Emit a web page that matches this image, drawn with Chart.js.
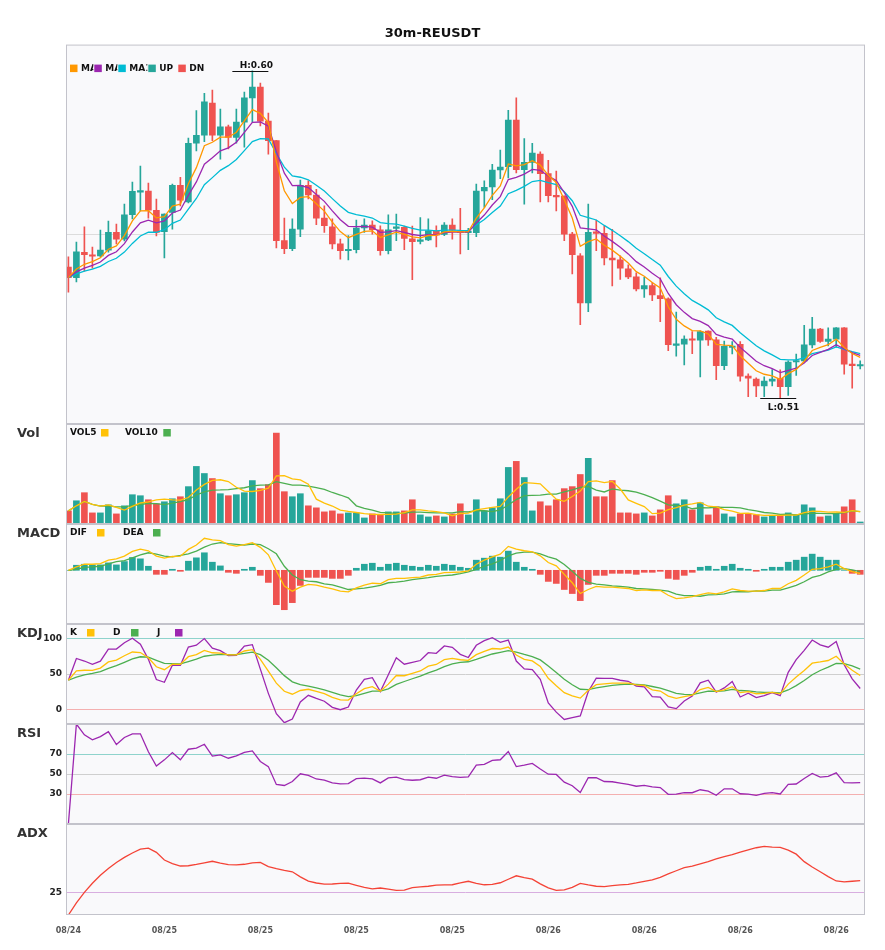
<!DOCTYPE html>
<html>
<head>
<meta charset="utf-8">
<title>30m-REUSDT</title>
<script src="https://cdn.jsdelivr.net/npm/chart.js@4.4.1/dist/chart.umd.min.js"></script>
<style>
  body { margin: 0; background: #fff; }
  #wrap { position: relative; width: 885px; height: 950px; }
  #wrap canvas { position: absolute; left: 0; }
</style>
</head>
<body>
<div id="wrap">
  <canvas id="cPrice" width="885" height="424" style="top:0"></canvas>
  <canvas id="cVol" width="885" height="100" style="top:424px"></canvas>
  <canvas id="cMacd" width="885" height="100" style="top:524px"></canvas>
  <canvas id="cKdj" width="885" height="100" style="top:624px"></canvas>
  <canvas id="cRsi" width="885" height="100" style="top:724px"></canvas>
  <canvas id="cAdx" width="885" height="126" style="top:824px"></canvas>
</div>
<script>
// 30m candles, 100 bars
const TICK_INDEX = [0, 12, 24, 36, 48, 60, 72, 84, 96];
const TICK_LABELS = ['08/24', '08/25', '08/25', '08/25', '08/25', '08/26', '08/26', '08/26', '08/26'];

const OPEN = [0.5459,0.5430,0.5500,0.5492,0.5490,0.5506,0.5555,0.5536,0.5604,0.5666,
  0.5669,0.5616,0.5557,0.5610,0.5685,0.5639,0.5801,0.5823,0.5912,0.5823,
  0.5846,0.5817,0.5859,0.5926,0.5956,0.5862,0.5808,0.5532,0.5510,0.5564,
  0.5685,0.5658,0.5594,0.5570,0.5523,0.5504,0.5507,0.5567,0.5575,0.5562,
  0.5504,0.5566,0.5569,0.5537,0.5530,0.5534,0.5559,0.5549,0.5575,0.5556,
  0.5554,0.5554,0.5669,0.5680,0.5727,0.5736,0.5865,0.5728,0.5748,0.5771,
  0.5717,0.5656,0.5655,0.5550,0.5490,0.5360,0.5555,0.5552,0.5484,0.5479,
  0.5454,0.5432,0.5399,0.5408,0.5380,0.5371,0.5243,0.5246,0.5259,0.5257,
  0.5282,0.5258,0.5187,0.5237,0.5246,0.5158,0.5150,0.5131,0.5144,0.5152,
  0.5129,0.5197,0.5200,0.5244,0.5288,0.5254,0.5260,0.5291,0.5191,0.5186];
const HIGH = [0.5487,0.5528,0.5570,0.5514,0.5561,0.5586,0.5578,0.5633,0.5694,0.5738,
  0.5691,0.5647,0.5606,0.5688,0.5707,0.5815,0.5891,0.5939,0.5948,0.5895,
  0.5851,0.5895,0.5942,0.6001,0.5967,0.5884,0.5809,0.5594,0.5592,0.5699,
  0.5697,0.5674,0.5628,0.5592,0.5536,0.5546,0.5589,0.5592,0.5587,0.5573,
  0.5603,0.5605,0.5572,0.5572,0.5596,0.5592,0.5573,0.5582,0.5592,0.5621,
  0.5566,0.5688,0.5697,0.5743,0.5782,0.5892,0.5926,0.5814,0.5801,0.5777,
  0.5754,0.5724,0.5656,0.5555,0.5496,0.5633,0.5589,0.5573,0.5563,0.5490,
  0.5465,0.5443,0.5431,0.5416,0.5429,0.5374,0.5335,0.5269,0.5281,0.5283,
  0.5283,0.5265,0.5255,0.5253,0.5253,0.5164,0.5153,0.5156,0.5176,0.5175,
  0.5200,0.5219,0.5298,0.5320,0.5290,0.5291,0.5292,0.5292,0.5222,0.5200];
const LOW = [0.5390,0.5418,0.5448,0.5456,0.5487,0.5500,0.5523,0.5531,0.5592,0.5614,
  0.5594,0.5545,0.5484,0.5564,0.5628,0.5636,0.5780,0.5805,0.5808,0.5757,
  0.5785,0.5801,0.5790,0.5859,0.5849,0.5771,0.5512,0.5496,0.5504,0.5543,
  0.5647,0.5576,0.5555,0.5509,0.5481,0.5479,0.5498,0.5555,0.5550,0.5492,
  0.5495,0.5532,0.5507,0.5424,0.5523,0.5532,0.5515,0.5546,0.5536,0.5495,
  0.5507,0.5543,0.5624,0.5645,0.5703,0.5705,0.5719,0.5633,0.5719,0.5639,
  0.5639,0.5614,0.5532,0.5440,0.5300,0.5336,0.5504,0.5465,0.5407,0.5425,
  0.5427,0.5393,0.5375,0.5366,0.5308,0.5228,0.5213,0.5189,0.5220,0.5156,
  0.5243,0.5148,0.5176,0.5219,0.5144,0.5101,0.5101,0.5101,0.5131,0.5098,
  0.5105,0.5160,0.5197,0.5236,0.5251,0.5241,0.5238,0.5163,0.5125,0.5178];
const CLOSE = [0.5430,0.5501,0.5493,0.5489,0.5506,0.5555,0.5536,0.5603,0.5668,0.5669,
  0.5616,0.5555,0.5605,0.5685,0.5644,0.5801,0.5823,0.5915,0.5823,0.5846,
  0.5817,0.5859,0.5926,0.5956,0.5862,0.5808,0.5532,0.5510,0.5564,0.5685,
  0.5658,0.5594,0.5573,0.5523,0.5504,0.5507,0.5567,0.5575,0.5562,0.5504,
  0.5562,0.5570,0.5538,0.5529,0.5534,0.5559,0.5547,0.5575,0.5561,0.5554,
  0.5557,0.5669,0.5679,0.5727,0.5735,0.5865,0.5728,0.5748,0.5774,0.5717,
  0.5656,0.5653,0.5550,0.5493,0.5360,0.5555,0.5552,0.5484,0.5479,0.5456,
  0.5432,0.5399,0.5408,0.5382,0.5372,0.5245,0.5246,0.5260,0.5257,0.5281,
  0.5258,0.5187,0.5240,0.5240,0.5158,0.5152,0.5131,0.5144,0.5150,0.5129,
  0.5197,0.5200,0.5244,0.5288,0.5254,0.5260,0.5291,0.5191,0.5187,0.5189];
const VOLUME = [130,230,310,110,110,190,100,180,290,280,
  240,200,220,250,270,370,570,500,450,300,
  280,290,310,430,350,390,900,320,270,300,
  180,160,120,130,100,110,110,60,100,90,
  120,120,130,240,90,70,80,70,100,200,
  90,240,130,160,250,560,620,460,130,220,
  180,240,350,370,490,650,270,270,430,110,
  110,100,110,80,140,280,200,240,140,210,
  90,170,100,70,100,100,90,70,80,90,
  110,90,190,160,70,80,100,170,240,20];

// MACD panel (units of 1e-4)
const DIF = [0,10,18,18,20,30,34,42,56,63,
  58,42,36,41,42,62,75,95,90,88,
  76,72,76,82,68,46,-2,-47,-62,-50,
  -42,-44,-50,-55,-62,-64,-52,-44,-38,-40,
  -28,-24,-24,-22,-20,-14,-12,-7,-6,-5,
  -2,18,30,40,48,71,63,58,55,43,
  23,13,-12,-37,-69,-57,-48,-50,-50,-52,
  -54,-60,-58,-60,-60,-74,-84,-82,-78,-72,
  -67,-70,-64,-55,-60,-62,-62,-60,-54,-54,
  -40,-30,-14,3,5,10,18,5,-4,-10];
const DEA = [0,3,9,10,12,19,26,29,37,46,
  52,48,42,40,44,49,57,69,78,82,
  79,77,75,78,76,64,49,12,-14,-28,
  -32,-34,-40,-43,-50,-57,-55,-53,-49,-45,
  -37,-35,-32,-28,-25,-22,-18,-16,-14,-10,
  -5,3,12,19,29,43,51,54,54,49,
  40,33,17,-3,-24,-36,-41,-43,-46,-48,
  -50,-54,-55,-57,-59,-62,-71,-75,-75,-77,
  -73,-72,-70,-64,-63,-64,-61,-62,-59,-59,
  -52,-45,-34,-21,-15,-5,3,5,1,-4];
const MACD_HIST = [0,15,18,16,16,22,16,26,38,34,
  12,-12,-12,3,-3,27,37,52,24,13,
  -6,-9,3,9,-15,-36,-102,-117,-96,-45,
  -21,-21,-21,-24,-24,-15,6,18,21,9,
  18,21,15,12,9,15,12,18,15,9,
  6,30,36,42,39,57,24,9,3,-12,
  -33,-39,-57,-69,-90,-42,-15,-15,-9,-9,
  -9,-12,-6,-6,-3,-24,-27,-15,-6,9,
  12,3,12,18,6,3,-3,3,9,9,
  24,30,39,48,39,30,30,0,-9,-12];

const UP = '#26a69a', DN = '#ef5350';
const FONT = '"DejaVu Sans", sans-serif';

// ---- indicators derived from the bars ----
function ewm(src, a) {
  const out = [];
  src.forEach((v, i) => out.push(i === 0 ? v : a * v + (1 - a) * out[i - 1]));
  return out;
}
const ema = (src, span) => ewm(src, 2 / (span + 1));
function sma(src, n) {
  return src.map((_, i) => {
    const s = src.slice(Math.max(0, i - n + 1), i + 1);
    return s.reduce((p, c) => p + c, 0) / s.length;
  });
}

const IDX = CLOSE.map((_, i) => i);
const isUp = IDX.map(i => CLOSE[i] >= OPEN[i]);
const pts = arr => arr.map((y, i) => ({ x: i, y: y }));

const ma5 = ema(CLOSE, 5), ma8 = ema(CLOSE, 8), ma13 = ema(CLOSE, 13);
const vol5 = sma(VOLUME, 5), vol10 = sma(VOLUME, 10);

const rsv = IDX.map(i => {
  const lo = Math.min(...LOW.slice(Math.max(0, i - 8), i + 1));
  const hi = Math.max(...HIGH.slice(Math.max(0, i - 8), i + 1));
  return hi === lo ? 50 : (CLOSE[i] - lo) / (hi - lo) * 100;
});
const kLine = ewm(rsv, 1 / 3);
const dLine = ewm(kLine, 1 / 3);
const jLine = IDX.map(i => 3 * kLine[i] - 2 * dLine[i]);

// RSI 14, Wilder smoothing
const delta = IDX.map(i => i ? CLOSE[i] - CLOSE[i - 1] : 0);
const gain = ewm(delta.map(d => Math.max(d, 0)), 1 / 14);
const loss = ewm(delta.map(d => Math.max(-d, 0)), 1 / 14);
const rsi = IDX.map(i => loss[i] === 0 ? (gain[i] === 0 ? 0 : 100) : 100 - 100 / (1 + gain[i] / loss[i]));

const pdm = [], mdm = [], tr = [];
IDX.forEach(i => {
  if (i === 0) { pdm.push(0); mdm.push(0); tr.push(HIGH[0] - LOW[0]); return; }
  const up = HIGH[i] - HIGH[i - 1], dn = LOW[i - 1] - LOW[i];
  pdm.push(up > dn && up > 0 ? up : 0);
  mdm.push(dn > up && dn > 0 ? dn : 0);
  tr.push(Math.max(HIGH[i] - LOW[i], Math.abs(HIGH[i] - CLOSE[i - 1]), Math.abs(LOW[i] - CLOSE[i - 1])));
});
const spdm = ewm(pdm, 2 / 15), smdm = ewm(mdm, 2 / 15), str = ewm(tr, 2 / 15);
const dx = IDX.map(i => {
  const p = spdm[i] / str[i] * 100, m = smdm[i] / str[i] * 100;
  return p + m === 0 ? 0 : Math.abs(p - m) / (p + m) * 100;
});
const adx = ewm(dx, 2 / 15);

// ---- shared chart pieces ----
function xAxis(show) {
  return {
    type: 'linear', min: -0.3, max: 99.6, display: show, offset: false,
    grid: { display: false }, border: { display: false },
    afterBuildTicks: s => { s.ticks = TICK_INDEX.map(v => ({ value: v })); },
    afterFit: s => {
      s.height = show ? 35 : 0;
      s.paddingLeft = 0; s.paddingRight = 0;
    },
    ticks: {
      autoSkip: false, maxRotation: 0, padding: 3, color: '#555',
      font: { family: FONT, size: 8, weight: 'bold' },
      callback: v => TICK_LABELS[TICK_INDEX.indexOf(v)]
    }
  };
}
function yAxis(extra) {
  return Object.assign({
    type: 'linear',
    afterFit: s => { s.width = 66; s.paddingTop = 0; s.paddingBottom = 0; },
    border: { display: false },
    grid: { display: false },
    ticks: { display: false }
  }, extra);
}
function refLines(values, colors) {
  return {
    afterBuildTicks: s => { s.ticks = values.map(v => ({ value: v })); },
    grid: { display: true, drawTicks: false, lineWidth: 1, color: c => colors[values.indexOf(c.tick.value)] },
    ticks: { display: true, padding: 4, color: '#222', font: { family: FONT, size: 9, weight: 'bold' } }
  };
}
const line = (label, data, color) => ({
  type: 'line', label: label, data: pts(data), borderColor: color, borderWidth: 1.3,
  pointRadius: 0, tension: 0, order: 1
});

// panel background, border, side label and the little legends
const panelPlugin = {
  id: 'panel',
  beforeDraw(chart, args, o) {
    const { ctx, chartArea: a } = chart;
    ctx.save();
    ctx.fillStyle = '#f9f9fb';
    ctx.fillRect(a.left, a.top, a.right - a.left, a.bottom - a.top);
    ctx.restore();
  },
  afterDraw(chart, args, o) {
    const { ctx, chartArea: a } = chart;
    ctx.save();
    ctx.strokeStyle = '#c3c3cb';
    ctx.lineWidth = 1;
    ctx.strokeRect(a.left + 0.5, a.top + 0.5, a.right - a.left - 1, a.bottom - a.top - 1);
    ctx.textBaseline = 'middle';
    if (o.label) {
      ctx.fillStyle = '#333';
      ctx.font = 'bold 13px ' + FONT;
      ctx.fillText(o.label, 17, a.top + 10);
    }
    const cy = a.top + (o.legendY || 9);
    ctx.font = 'bold 9px ' + FONT;
    (o.legend || []).forEach((it, k, all) => {
      ctx.fillStyle = it.color;
      ctx.fillRect(it.box, cy - 4, 7.5, 7.5);
      ctx.save();
      const tx = o.boxFirst ? it.box + 11 : it.text;
      if (o.boxFirst && all[k + 1]) {
        ctx.beginPath();
        ctx.rect(tx, cy - 8, all[k + 1].box - 1 - tx, 16);
        ctx.clip();
      }
      ctx.fillStyle = '#111';
      ctx.fillText(it.label, tx, cy);
      ctx.restore();
    });
    ctx.restore();
  }
};

// high / low markers on the price panel
const hiLoPlugin = {
  id: 'hilo',
  afterDatasetsDraw(chart) {
    const { ctx } = chart;
    const xs = chart.scales.x, ys = chart.scales.y;
    const hi = Math.max(...HIGH), lo = Math.min(...LOW);
    const hiI = HIGH.indexOf(hi), loI = LOW.indexOf(lo);
    ctx.save();
    ctx.strokeStyle = '#111';
    ctx.lineWidth = 1.2;
    ctx.fillStyle = '#111';
    ctx.font = 'bold 9px ' + FONT;
    ctx.textAlign = 'center';
    ctx.textBaseline = 'middle';
    const yh = Math.round(ys.getPixelForValue(hi)) + 0.5;
    ctx.beginPath();
    ctx.moveTo(xs.getPixelForValue(hiI - 2.5), yh);
    ctx.lineTo(xs.getPixelForValue(hiI + 2), yh);
    ctx.stroke();
    ctx.fillText('H:' + hi.toFixed(2), xs.getPixelForValue(hiI + 0.5), yh - 6);
    const yl = Math.round(ys.getPixelForValue(lo)) + 0.5;
    ctx.beginPath();
    ctx.moveTo(xs.getPixelForValue(loI - 2.5), yl);
    ctx.lineTo(xs.getPixelForValue(loI + 2), yl);
    ctx.stroke();
    ctx.fillText('L:' + lo.toFixed(2), xs.getPixelForValue(loI + 0.4), yl + 9);
    ctx.restore();
  }
};

const baseOptions = (scales, panel, extraPlugins) => ({
  responsive: false,
  animation: false,
  layout: { padding: { left: 0, right: 20, top: 0, bottom: 0 } },
  scales: scales,
  plugins: Object.assign({ legend: { display: false }, tooltip: { enabled: false }, panel: panel }, extraPlugins || {})
});

// ---- price panel ----
const hiAll = Math.max(...HIGH), loAll = Math.min(...LOW), pr = hiAll - loAll;
new Chart(document.getElementById('cPrice'), {
  type: 'bar',
  data: {
    datasets: [
      line('MA5', ma5, '#ff9800'),
      line('MA8', ma8, '#9c27b0'),
      line('MA13', ma13, '#00bcd4'),
      {
        label: 'wick', data: IDX.map(i => ({ x: i, y: [LOW[i], HIGH[i]] })),
        backgroundColor: IDX.map(i => isUp[i] ? UP : DN),
        barThickness: 1, grouped: false, order: 3
      },
      {
        label: 'body', data: IDX.map(i => ({ x: i, y: [OPEN[i], CLOSE[i]] })),
        backgroundColor: IDX.map(i => isUp[i] ? UP : DN),
        barThickness: 6, minBarLength: 1.5, grouped: false, order: 2
      }
    ]
  },
  options: baseOptions({
    x: xAxis(false),
    y: yAxis({
      min: loAll - 0.08 * pr, max: hiAll + 0.08 * pr,
      afterBuildTicks: s => { s.ticks = [{ value: (s.min + s.max) / 2 }]; },
      grid: { display: true, drawTicks: false, color: '#dcdcdc' }
    })
  }, {
    boxFirst: true, legendY: 24,
    legend: [
      { label: 'MA5', color: '#ff9800', box: 70 },
      { label: 'MA8', color: '#9c27b0', box: 94.3 },
      { label: 'MA13', color: '#00bcd4', box: 118.3 },
      { label: 'UP', color: UP, box: 148.3 },
      { label: 'DN', color: DN, box: 178.3 }
    ]
  }, {
    title: {
      display: true, text: '30m-REUSDT', color: '#111',
      font: { family: FONT, size: 13, weight: 'bold' },
      padding: { top: 26, bottom: 3 }
    }
  }),
  plugins: [panelPlugin, hiLoPlugin]
});

// ---- volume ----
new Chart(document.getElementById('cVol'), {
  type: 'bar',
  data: {
    datasets: [
      line('VOL5', vol5, '#ffc107'),
      line('VOL10', vol10, '#4caf50'),
      {
        label: 'Vol', data: pts(VOLUME), backgroundColor: IDX.map(i => isUp[i] ? UP : DN),
        barThickness: 6, grouped: false, order: 2
      }
    ]
  },
  options: baseOptions({ x: xAxis(false), y: yAxis({ min: 0, max: Math.max(...VOLUME) * 1.1 }) }, {
    label: 'Vol',
    legend: [
      { label: 'VOL5', color: '#ffc107', text: 70, box: 101 },
      { label: 'VOL10', color: '#4caf50', text: 125, box: 163.3 }
    ]
  }),
  plugins: [panelPlugin]
});

// ---- MACD ----
const mAll = DIF.concat(DEA, MACD_HIST);
const mMin = Math.min(...mAll), mMax = Math.max(...mAll), mr = mMax - mMin;
new Chart(document.getElementById('cMacd'), {
  type: 'bar',
  data: {
    datasets: [
      line('DIF', DIF, '#ffc107'),
      line('DEA', DEA, '#4caf50'),
      {
        label: 'MACD', data: pts(MACD_HIST), backgroundColor: MACD_HIST.map(v => v >= 0 ? UP : DN),
        barThickness: 6, grouped: false, order: 2
      }
    ]
  },
  options: baseOptions({ x: xAxis(false), y: yAxis({ min: mMin - 0.2 * mr, max: mMax + 0.2 * mr }) }, {
    label: 'MACD',
    legend: [
      { label: 'DIF', color: '#ffc107', text: 70, box: 97 },
      { label: 'DEA', color: '#4caf50', text: 123, box: 153 }
    ]
  }),
  plugins: [panelPlugin]
});

// ---- KDJ ----
new Chart(document.getElementById('cKdj'), {
  type: 'line',
  data: {
    datasets: [
      line('K', kLine, '#ffc107'),
      line('D', dLine, '#4caf50'),
      line('J', jLine, '#9c27b0')
    ]
  },
  options: baseOptions({
    x: xAxis(false),
    y: yAxis(Object.assign({ min: -20, max: 120 }, refLines([0, 50, 100], ['#f4b0b0', '#cfcfcf', '#8fd3cc'])))
  }, {
    label: 'KDJ',
    legend: [
      { label: 'K', color: '#ffc107', text: 70, box: 87 },
      { label: 'D', color: '#4caf50', text: 113, box: 131 },
      { label: 'J', color: '#9c27b0', text: 157, box: 175 }
    ]
  }),
  plugins: [panelPlugin]
});

// ---- RSI ----
new Chart(document.getElementById('cRsi'), {
  type: 'line',
  data: { datasets: [line('RSI', rsi, '#9c27b0')] },
  options: baseOptions({
    x: xAxis(false),
    y: yAxis(Object.assign({ min: 0, max: 100 }, refLines([30, 50, 70], ['#f4b0b0', '#cfcfcf', '#8fd3cc'])))
  }, { label: 'RSI' }),
  plugins: [panelPlugin]
});

// ---- ADX ----
new Chart(document.getElementById('cAdx'), {
  type: 'line',
  data: { datasets: [line('ADX', adx, '#f44336')] },
  options: baseOptions({
    x: xAxis(true),
    y: yAxis(Object.assign({ min: 0, max: 100 }, refLines([25], ['#d8aee0'])))
  }, { label: 'ADX' }),
  plugins: [panelPlugin]
});
</script>
</body>
</html>
